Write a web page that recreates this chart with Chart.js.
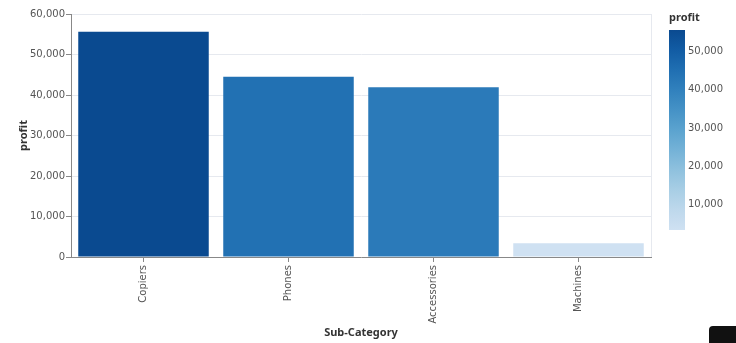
<!DOCTYPE html>
<html>
<head>
<meta charset="utf-8">
<script src="https://cdn.jsdelivr.net/npm/chart.js@4"></script>
<style>
  html, body { margin: 0; padding: 0; background: #fff; }
  #wrap { position: relative; width: 736px; height: 343px; }
  #corner { position: absolute; right: 0; bottom: 0; width: 27px; height: 17px; background: #111; border-top-left-radius: 4px; }
</style>
</head>
<body>
<div id="wrap">
  <canvas id="chart" width="736" height="343"></canvas>
  <div id="corner"></div>
</div>
<script>
// data
const categories = ['Copiers', 'Phones', 'Accessories', 'Machines'];
const profit = [55617.82, 44515.73, 41936.64, 3384.76];
const yTicks = [0, 10000, 20000, 30000, 40000, 50000, 60000];
const legendTicks = [10000, 20000, 30000, 40000, 50000];

// vega "blues" scheme
const blues = ['#cfe1f2', '#bed8ec', '#a8cee5', '#8fc1de', '#74b2d7', '#5ba3cf',
               '#4592c6', '#3181bd', '#206fb2', '#125ca4', '#0a4a90'];

const vMin = Math.min(...profit);
const vMax = Math.max(...profit);

function hex(c) {
  return [1, 3, 5].map(i => parseInt(c.slice(i, i + 2), 16));
}
function colorAt(t) {
  t = Math.max(0, Math.min(1, t));
  const p = t * (blues.length - 1);
  const i = Math.min(Math.floor(p), blues.length - 2);
  const f = p - i;
  const a = hex(blues[i]), b = hex(blues[i + 1]);
  const c = a.map((v, k) => Math.round(v + (b[k] - v) * f));
  return `rgb(${c[0]},${c[1]},${c[2]})`;
}
const fmt = v => v.toLocaleString('en-US');

const axisColor = '#888';
const gridColor = '#e6e9ef';
const tickFont = { family: 'DejaVu Sans', size: 10 };
const titleFont = { family: 'Noto Sans', size: 11, weight: 'bold' };

// right frame line + colour legend
const extras = {
  id: 'extras',
  afterDraw(chart) {
    const ctx = chart.ctx;
    const area = chart.chartArea;
    ctx.save();
    ctx.strokeStyle = gridColor;
    ctx.lineWidth = 1;
    ctx.beginPath();
    ctx.moveTo(area.right + 0.5, area.top);
    ctx.lineTo(area.right + 0.5, area.bottom);
    ctx.stroke();

    const x = 669, top = 30, h = 200, w = 16;
    const g = ctx.createLinearGradient(0, top + h, 0, top);
    blues.forEach((c, i) => g.addColorStop(i / (blues.length - 1), c));
    ctx.fillStyle = g;
    ctx.fillRect(x, top, w, h);

    ctx.fillStyle = '#333';
    ctx.font = 'bold 11px "Noto Sans"';
    ctx.textAlign = 'left';
    ctx.textBaseline = 'middle';
    ctx.fillText('profit', x, 18);

    ctx.fillStyle = '#555';
    ctx.font = '10px "DejaVu Sans"';
    legendTicks.forEach(v => {
      const y = top + (vMax - v) / (vMax - vMin) * h;
      ctx.fillText(fmt(v), x + 19, y);
    });
    ctx.restore();
  }
};

new Chart(document.getElementById('chart'), {
  type: 'bar',
  data: {
    labels: categories,
    datasets: [{
      label: 'profit',
      data: profit,
      backgroundColor: profit.map(v => colorAt((v - vMin) / (vMax - vMin))),
      borderWidth: 0,
      barPercentage: 0.9,
      categoryPercentage: 1
    }]
  },
  options: {
    responsive: false,
    animation: false,
    devicePixelRatio: 1,
    layout: { padding: { top: 14, right: 85, left: 0, bottom: 0 } },
    plugins: { legend: { display: false }, tooltip: { enabled: false } },
    scales: {
      x: {
        afterFit: s => { s.height = 86; },
        grid: { display: true, drawOnChartArea: false, offset: false, tickColor: axisColor, tickLength: 5 },
        border: { color: axisColor },
        ticks: { font: tickFont, color: '#555', minRotation: 90, maxRotation: 90, padding: 3 },
        title: { display: true, text: 'Sub-Category', font: titleFont, color: '#333', padding: { top: 5 } }
      },
      y: {
        min: 0,
        max: 60000,
        afterFit: s => { s.width = 71; },
        afterBuildTicks: s => { s.ticks = yTicks.map(v => ({ value: v })); },
        grid: { color: gridColor, tickColor: axisColor, tickLength: 5 },
        border: { color: axisColor },
        ticks: { font: tickFont, color: '#555', padding: 1, callback: v => fmt(v) },
        title: { display: true, text: 'profit', font: titleFont, color: '#333', padding: { top: 17 } }
      }
    }
  },
  plugins: [extras]
});
</script>
</body>
</html>
